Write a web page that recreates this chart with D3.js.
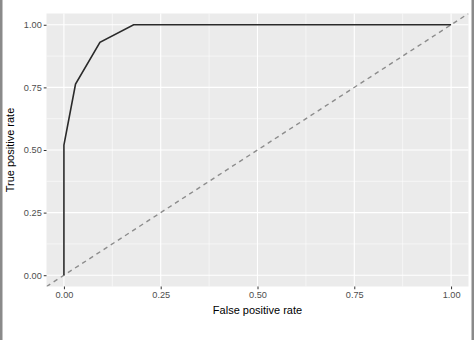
<!DOCTYPE html>
<html><head><meta charset="utf-8">
<script src="https://cdn.jsdelivr.net/npm/d3@7"></script>
<style>body{margin:0;background:#fff}svg{display:block}</style>
</head><body>
<script>
const fpr = [0, 0, 0.03, 0.093, 0.18, 1.0];
const tpr = [0, 0.52, 0.763, 0.93, 1.0, 1.0];
const xTicks = [0, 0.25, 0.5, 0.75, 1];
const yTicks = [0, 0.25, 0.5, 0.75, 1];
const xLabel = "False positive rate";
const yLabel = "True positive rate";

const W = 474, H = 340;
const svg = d3.select("body").append("svg").attr("width", W).attr("height", H);
svg.append("rect").attr("width", W).attr("height", H).attr("fill", "#fff");
// frame bars
svg.append("rect").attr("x", 0).attr("y", 0).attr("width", 2.5).attr("height", H).attr("fill", "#8a8a8a");
svg.append("rect").attr("x", 471.5).attr("y", 0).attr("width", 2.5).attr("height", H).attr("fill", "#8a8a8a");

const pl = 46.5, pr = 468.5, pt = 13.5, pb = 286.5;
const ex = 0.045;
const x = d3.scaleLinear().domain([-ex, 1 + ex]).range([pl, pr]);
const y = d3.scaleLinear().domain([-ex, 1 + ex]).range([pb, pt]);

svg.append("rect").attr("x", pl).attr("y", pt).attr("width", pr - pl).attr("height", pb - pt).attr("fill", "#ebebeb");
const g = svg.append("g");
const minor = [0.125, 0.375, 0.625, 0.875];
g.selectAll(".mx").data(minor).enter().append("line")
  .attr("x1", d => x(d)).attr("x2", d => x(d)).attr("y1", pt).attr("y2", pb)
  .attr("stroke", "#fff").attr("stroke-width", 0.55);
g.selectAll(".my").data(minor).enter().append("line")
  .attr("y1", d => y(d)).attr("y2", d => y(d)).attr("x1", pl).attr("x2", pr)
  .attr("stroke", "#fff").attr("stroke-width", 0.55);
g.selectAll(".Mx").data(xTicks).enter().append("line")
  .attr("x1", d => x(d)).attr("x2", d => x(d)).attr("y1", pt).attr("y2", pb)
  .attr("stroke", "#fff").attr("stroke-width", 1.1);
g.selectAll(".My").data(yTicks).enter().append("line")
  .attr("y1", d => y(d)).attr("y2", d => y(d)).attr("x1", pl).attr("x2", pr)
  .attr("stroke", "#fff").attr("stroke-width", 1.1);

// diagonal
svg.append("clipPath").attr("id", "c").append("rect")
  .attr("x", pl).attr("y", pt).attr("width", pr - pl).attr("height", pb - pt);
svg.append("line").attr("clip-path", "url(#c)")
  .attr("x1", x(-ex)).attr("y1", y(-ex)).attr("x2", x(1 + ex)).attr("y2", y(1 + ex))
  .attr("stroke", "#8c8c8c").attr("stroke-width", 1.4).attr("stroke-dasharray", "4.5,4");

// ROC
const pts = fpr.map((v, i) => [v, tpr[i]]);
svg.append("path").datum(pts)
  .attr("d", d3.line().x(d => x(d[0])).y(d => y(d[1])))
  .attr("fill", "none").attr("stroke", "#2a2a2a").attr("stroke-width", 1.6).attr("stroke-linejoin", "miter");

// axes
const fmt = d3.format(".2f");
const xa = d3.axisBottom(x).tickValues(xTicks).tickFormat(fmt).tickSize(2.75).tickPadding(2);
const ya = d3.axisLeft(y).tickValues(yTicks).tickFormat(fmt).tickSize(2.75).tickPadding(2);
const gx = svg.append("g").attr("transform", `translate(0,${pb})`).call(xa);
const gy = svg.append("g").attr("transform", `translate(${pl},0)`).call(ya);
[gx, gy].forEach(a => {
  a.select(".domain").remove();
  a.selectAll(".tick line").attr("stroke", "#333").attr("stroke-width", 1);
  a.selectAll(".tick text").attr("fill", "#4d4d4d").style("font-family", "Liberation Sans, Arial, sans-serif").style("font-size", "9.2px");
});

svg.append("text").attr("x", (x(0) + x(1)) / 2).attr("y", 314)
  .attr("text-anchor", "middle").style("font-family", "Liberation Sans, Arial, sans-serif").style("font-size", "11px").attr("fill", "#000")
  .text(xLabel);
svg.append("text").attr("transform", `translate(14,${(y(0) + y(1)) / 2}) rotate(-90)`)
  .attr("text-anchor", "middle").style("font-family", "Liberation Sans, Arial, sans-serif").style("font-size", "11px").attr("fill", "#000")
  .text(yLabel);
</script>
</body></html>
